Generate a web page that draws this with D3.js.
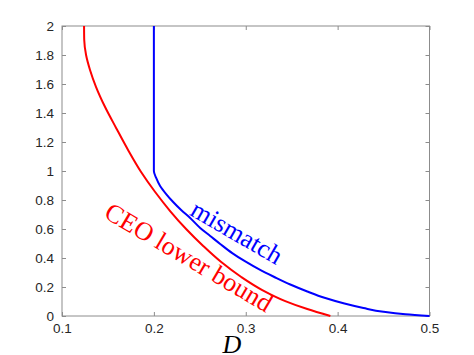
<!DOCTYPE html>
<html>
<head>
<meta charset="utf-8">
<script src="https://cdn.jsdelivr.net/npm/d3@7"></script>
<style>
  html, body { margin: 0; padding: 0; background: #fff; }
  svg { display: block; }
</style>
</head>
<body>
<svg id="chart" width="474" height="355"></svg>
<script>
// ---- data ----
const xTicks = [0.1, 0.2, 0.3, 0.4, 0.5];
const yTicks = [0, 0.2, 0.4, 0.6, 0.8, 1, 1.2, 1.4, 1.6, 1.8, 2];

const ceoD = [0.124, 0.1242, 0.1262, 0.1305, 0.1371, 0.1469, 0.1589, 0.1719, 0.1861, 0.2014, 0.2177, 0.2351, 0.2537, 0.2733, 0.2951, 0.3180, 0.3430, 0.3670, 0.3921];
const ceoR = [2.000, 1.903, 1.800, 1.697, 1.579, 1.441, 1.297, 1.145, 0.993, 0.855, 0.724, 0.600, 0.483, 0.372, 0.269, 0.179, 0.103, 0.048, 0.000];

const misD = [0.2, 0.2, 0.2, 0.2025, 0.2068, 0.2134, 0.2210, 0.2297, 0.2395, 0.2504, 0.2613, 0.2722, 0.2853, 0.2995, 0.3147, 0.3311, 0.3485, 0.3670, 0.3866, 0.4074, 0.4281, 0.4499, 0.4738, 0.5];
const misR = [2.0, 1.5, 1.0, 0.952, 0.897, 0.841, 0.786, 0.731, 0.676, 0.607, 0.552, 0.497, 0.434, 0.376, 0.321, 0.269, 0.217, 0.169, 0.124, 0.086, 0.055, 0.029, 0.012, 0.0];

const xLabel = "D";
const ceoLabel = "CEO lower bound";
const misLabel = "mismatch";

// ---- layout ----
const svg = d3.select("#chart");
const x = d3.scaleLinear().domain([0.1, 0.5]).range([62, 429.5]);
const y = d3.scaleLinear().domain([0, 2]).range([316, 26]);
const axisColor = "#8c8c8c";
const tickFont = "'Liberation Sans', Arial, Helvetica, sans-serif";
const serif = "'Liberation Serif', 'Times New Roman', Times, serif";

// box
svg.append("rect")
  .attr("x", x(0.1)).attr("y", y(2))
  .attr("width", x(0.5) - x(0.1)).attr("height", y(0) - y(2))
  .attr("fill", "none").attr("stroke", axisColor).attr("stroke-width", 1);

function styleAxis(g) {
  g.select(".domain").remove();
  g.selectAll(".tick line").attr("stroke", axisColor);
  g.selectAll(".tick text")
    .attr("fill", "#262626")
    .style("font-family", tickFont)
    .style("font-size", "13.5px");
}

// bottom axis
svg.append("g").attr("transform", `translate(0,${y(0)})`)
  .call(d3.axisBottom(x).tickValues(xTicks).tickFormat(d3.format("")).tickSizeInner(-4).tickSizeOuter(0).tickPadding(7))
  .call(styleAxis);
// top ticks
svg.append("g").attr("transform", `translate(0,${y(2)})`)
  .call(d3.axisTop(x).tickValues(xTicks).tickFormat("").tickSizeInner(-4).tickSizeOuter(0))
  .call(styleAxis);
// left axis
svg.append("g").attr("transform", `translate(${x(0.1)},0)`)
  .call(d3.axisLeft(y).tickValues(yTicks).tickFormat(d3.format("")).tickSizeInner(-4).tickSizeOuter(0).tickPadding(8))
  .call(styleAxis);
// right ticks
svg.append("g").attr("transform", `translate(${x(0.5)},0)`)
  .call(d3.axisRight(y).tickValues(yTicks).tickFormat("").tickSizeInner(-4).tickSizeOuter(0))
  .call(styleAxis);

// curves (monotone in y, points ordered by ascending value)
const smooth = d3.line().x(d => x(d[0])).y(d => y(d[1])).curve(d3.curveMonotoneY);
const ceoPts = ceoD.map((d, i) => [d, ceoR[i]]).reverse();
const misPts = misD.map((d, i) => [d, misR[i]]).reverse();

svg.append("path").datum(ceoPts).attr("d", smooth)
  .attr("fill", "none").attr("stroke", "#ff0000").attr("stroke-width", 2);
svg.append("path").datum(misPts).attr("d", smooth)
  .attr("fill", "none").attr("stroke", "#0000ff").attr("stroke-width", 2);

// in-plot labels
svg.append("text")
  .attr("transform", "translate(189,257) rotate(30.5)")
  .attr("text-anchor", "middle").attr("dy", "0.35em")
  .attr("fill", "#ff0000")
  .style("font-family", serif).style("font-size", "26px")
  .text(ceoLabel);
svg.append("text")
  .attr("transform", "translate(237,232) rotate(30)")
  .attr("text-anchor", "middle").attr("dy", "0.35em")
  .attr("fill", "#0000ff")
  .style("font-family", serif).style("font-size", "26px")
  .text(misLabel);

// x axis label
svg.append("text")
  .attr("x", 232).attr("y", 353)
  .attr("text-anchor", "middle")
  .attr("fill", "#000")
  .style("font-family", serif).style("font-style", "italic").style("font-size", "26px")
  .text(xLabel);
</script>
</body>
</html>
